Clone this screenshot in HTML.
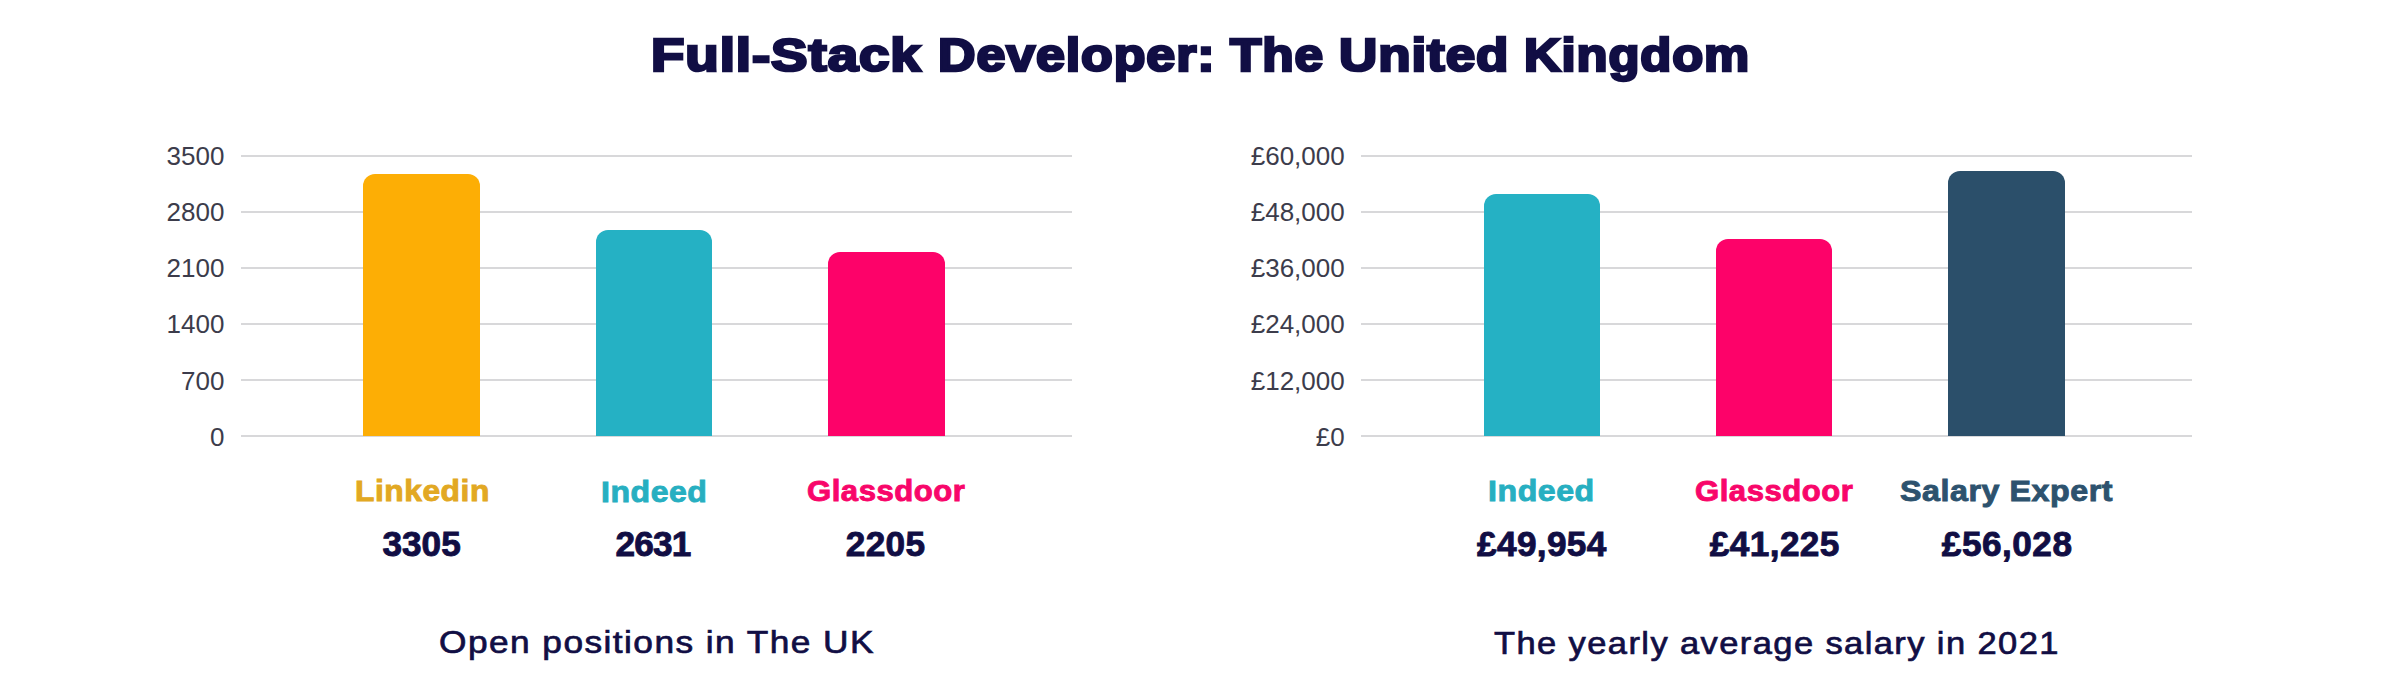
<!DOCTYPE html>
<html lang="en">
<head>
<meta charset="utf-8">
<title>Full-Stack Developer: The United Kingdom</title>
<style>
html,body{margin:0;padding:0;background:#fff;}
body{width:2400px;height:685px;position:relative;overflow:hidden;font-family:"Liberation Sans",sans-serif;}
.t{position:absolute;display:block;white-space:nowrap;line-height:1;transform-origin:0 0;font-weight:normal;}
.r{position:absolute;white-space:nowrap;line-height:1;text-align:right;}
.b{font-weight:bold;}
.grid{position:absolute;height:2px;background:#d8d8da;}
.bar{position:absolute;border-radius:12px 12px 0 0;}
h1,h2,p,figure{margin:0;padding:0;font-weight:normal;font-size:inherit;}

</style>
</head>
<body>
<h1><span class="t b" style="left:650.89px;top:31.96px;font-size:46px;color:#110e44;letter-spacing:0.800px;-webkit-text-stroke:2.6px #110e44;transform:scaleX(1.1880);">Full-Stack</span> <span class="t b" style="left:937.91px;top:31.96px;font-size:46px;color:#110e44;letter-spacing:0.800px;-webkit-text-stroke:2.6px #110e44;transform:scaleX(1.1291);">Developer:</span> <span class="t b" style="left:1229.73px;top:31.96px;font-size:46px;color:#110e44;letter-spacing:0.800px;-webkit-text-stroke:2.6px #110e44;transform:scaleX(1.1176);">The</span> <span class="t b" style="left:1338.81px;top:31.96px;font-size:46px;color:#110e44;letter-spacing:0.800px;-webkit-text-stroke:2.6px #110e44;transform:scaleX(1.1515);">United</span> <span class="t b" style="left:1523.91px;top:31.96px;font-size:46px;color:#110e44;letter-spacing:0.800px;-webkit-text-stroke:2.6px #110e44;transform:scaleX(1.1036);">Kingdom</span></h1>
<section class="chart">
<div class="grid" style="left:240.5px;width:831px;top:155px"></div>
<div class="r" style="right:2175.6px;top:143.34px;font-size:26px;color:#3c3c4b">3500</div>
<div class="grid" style="left:240.5px;width:831px;top:211px"></div>
<div class="r" style="right:2175.6px;top:199.39px;font-size:26px;color:#3c3c4b">2800</div>
<div class="grid" style="left:240.5px;width:831px;top:267px"></div>
<div class="r" style="right:2175.6px;top:255.44px;font-size:26px;color:#3c3c4b">2100</div>
<div class="grid" style="left:240.5px;width:831px;top:323px"></div>
<div class="r" style="right:2175.6px;top:311.49px;font-size:26px;color:#3c3c4b">1400</div>
<div class="grid" style="left:240.5px;width:831px;top:379px"></div>
<div class="r" style="right:2175.6px;top:367.54px;font-size:26px;color:#3c3c4b">700</div>
<div class="grid" style="left:240.5px;width:831px;top:435px"></div>
<div class="r" style="right:2175.6px;top:423.59px;font-size:26px;color:#3c3c4b">0</div>
<div class="bar" style="left:363.4px;width:116.6px;top:174.1px;height:261.5px;background:#fdae05"></div>
<div class="bar" style="left:595.8px;width:116.6px;top:230.2px;height:205.4px;background:#25b1c4"></div>
<div class="bar" style="left:828.0px;width:116.6px;top:251.7px;height:183.9px;background:#fd0269"></div>
<div class="t b" style="left:355.23px;top:477.07px;font-size:29px;color:#e2a823;letter-spacing:0.500px;-webkit-text-stroke:0.9px #e2a823;transform:scaleX(1.0941);">Linkedin</div>
<div class="t b" style="left:382.47px;top:525.75px;font-size:35.2px;color:#110e44;letter-spacing:-0.008px;-webkit-text-stroke:0.9px #110e44;">3305</div>
<div class="t b" style="left:601.05px;top:478.28px;font-size:29px;color:#27afc1;letter-spacing:0.500px;-webkit-text-stroke:0.9px #27afc1;transform:scaleX(1.1033);">Indeed</div>
<div class="t b" style="left:615.43px;top:525.75px;font-size:35.2px;color:#110e44;letter-spacing:-0.788px;-webkit-text-stroke:0.9px #110e44;">2631</div>
<div class="t b" style="left:806.87px;top:477.10px;font-size:29px;color:#f8066a;letter-spacing:0.500px;-webkit-text-stroke:0.9px #f8066a;transform:scaleX(1.0713);">Glassdoor</div>
<div class="t b" style="left:845.71px;top:525.75px;font-size:35.2px;color:#110e44;letter-spacing:0.382px;-webkit-text-stroke:0.9px #110e44;">2205</div>
<div class="t" style="left:438.66px;top:626.06px;font-size:32px;color:#110e44;letter-spacing:1.300px;-webkit-text-stroke:0.7px #110e44;transform:scaleX(1.1030);">Open positions in The UK</div>
</section>
<section class="chart">
<div class="grid" style="left:1361.0px;width:831px;top:155px"></div>
<div class="r" style="right:1055.3px;top:143.34px;font-size:26px;color:#3c3c4b">£60,000</div>
<div class="grid" style="left:1361.0px;width:831px;top:211px"></div>
<div class="r" style="right:1055.3px;top:199.39px;font-size:26px;color:#3c3c4b">£48,000</div>
<div class="grid" style="left:1361.0px;width:831px;top:267px"></div>
<div class="r" style="right:1055.3px;top:255.44px;font-size:26px;color:#3c3c4b">£36,000</div>
<div class="grid" style="left:1361.0px;width:831px;top:323px"></div>
<div class="r" style="right:1055.3px;top:311.49px;font-size:26px;color:#3c3c4b">£24,000</div>
<div class="grid" style="left:1361.0px;width:831px;top:379px"></div>
<div class="r" style="right:1055.3px;top:367.54px;font-size:26px;color:#3c3c4b">£12,000</div>
<div class="grid" style="left:1361.0px;width:831px;top:435px"></div>
<div class="r" style="right:1055.3px;top:423.59px;font-size:26px;color:#3c3c4b">£0</div>
<div class="bar" style="left:1483.6px;width:116.6px;top:194.0px;height:241.6px;background:#25b1c4"></div>
<div class="bar" style="left:1715.9px;width:116.6px;top:239.1px;height:196.5px;background:#fd0269"></div>
<div class="bar" style="left:1948.3px;width:116.6px;top:171.0px;height:264.6px;background:#2b4f6a"></div>
<div class="t b" style="left:1488.34px;top:477.08px;font-size:29px;color:#27afc1;letter-spacing:0.500px;-webkit-text-stroke:0.9px #27afc1;transform:scaleX(1.1067);">Indeed</div>
<div class="t b" style="left:1477.09px;top:525.75px;font-size:35.2px;color:#110e44;letter-spacing:0.333px;-webkit-text-stroke:0.9px #110e44;">£49,954</div>
<div class="t b" style="left:1694.87px;top:477.10px;font-size:29px;color:#f8066a;letter-spacing:0.500px;-webkit-text-stroke:0.9px #f8066a;transform:scaleX(1.0713);">Glassdoor</div>
<div class="t b" style="left:1709.85px;top:525.75px;font-size:35.2px;color:#110e44;letter-spacing:0.393px;-webkit-text-stroke:0.9px #110e44;">£41,225</div>
<div class="t b" style="left:1900.45px;top:477.09px;font-size:29px;color:#2d526e;letter-spacing:0.500px;-webkit-text-stroke:0.9px #2d526e;transform:scaleX(1.1107);">Salary Expert</div>
<div class="t b" style="left:1941.85px;top:525.75px;font-size:35.2px;color:#110e44;letter-spacing:0.488px;-webkit-text-stroke:0.9px #110e44;">£56,028</div>
<div class="t" style="left:1494.18px;top:627.06px;font-size:32px;color:#110e44;letter-spacing:1.300px;-webkit-text-stroke:0.7px #110e44;transform:scaleX(1.0779);">The yearly average salary in 2021</div>
</section>
</body>
</html>
